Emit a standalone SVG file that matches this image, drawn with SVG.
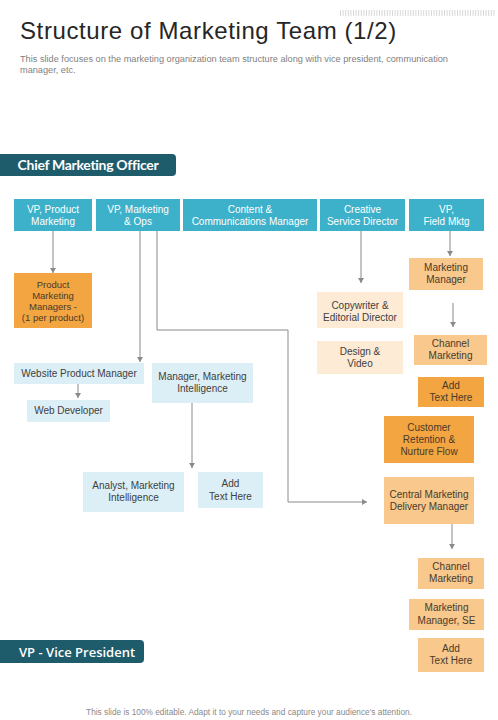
<svg xmlns="http://www.w3.org/2000/svg" width="498" height="720" viewBox="0 0 498 720">
<style>
.t{font-family:"Liberation Sans",Arial,sans-serif;text-anchor:middle}
.hd{fill:#3DB1CA}
.hdt{font-size:10px;fill:#ffffff}
.lb{fill:#DDEFF6}
.pe{fill:#FDEBD6}
.mo{fill:#F8C88D}
.do{fill:#F2A541}
.bt{font-size:10px;fill:#404040}
.ot{font-size:10px;fill:#4a3a2a}
.ban{fill:#1E5B6B}
.con{fill:none;stroke:#8a8a8a;stroke-width:1;marker-end:url(#ah)}
</style>
<defs>
<marker id="ah" markerUnits="userSpaceOnUse" markerWidth="6" markerHeight="6" refX="5" refY="3" orient="auto">
<path d="M0,0 L5,3 L0,6 Z" fill="#8a8a8a"/>
</marker>
</defs>
<rect width="498" height="720" fill="#ffffff"/>
<line x1="340" y1="13" x2="496" y2="13" stroke="#d8d8d8" stroke-width="6" stroke-dasharray="1 1.6"/>
<text x="20" y="39" style="font-family:'Liberation Sans',Arial,sans-serif;font-size:24px;fill:#262626;letter-spacing:0.6px">Structure of Marketing Team (1/2)</text>
<text x="20" y="62" style="font-family:'Liberation Sans',Arial,sans-serif;font-size:9.2px;fill:#7f7f7f">This slide focuses on the marketing organization team structure along with vice president, communication</text>
<text x="20" y="73" style="font-family:'Liberation Sans',Arial,sans-serif;font-size:9.2px;fill:#7f7f7f">manager, etc.</text>

<g id="cmo">
<rect class="ban" x="-6" y="154" width="182" height="22" rx="4"/>
<text class="t" x="88" y="170" style="font-family:Lato,'Open Sans',sans-serif;font-weight:bold;font-size:14px;fill:#ffffff;letter-spacing:-0.3px">Chief Marketing Officer</text>
</g>

<g id="vp-product">
<rect class="hd" x="14" y="199" width="78" height="32"/>
<text class="t hdt" x="53" y="213">VP, Product</text>
<text class="t hdt" x="53" y="225">Marketing</text>
</g>
<g id="vp-mktg-ops">
<rect class="hd" x="96" y="199" width="84" height="32"/>
<text class="t hdt" x="138" y="213">VP, Marketing</text>
<text class="t hdt" x="138" y="225">&amp; Ops</text>
</g>
<g id="content-comm">
<rect class="hd" x="183" y="199" width="134" height="32"/>
<text class="t hdt" x="250" y="213">Content &amp;</text>
<text class="t hdt" x="250" y="225">Communications Manager</text>
</g>
<g id="creative">
<rect class="hd" x="320" y="199" width="85" height="32"/>
<text class="t hdt" x="362.5" y="213">Creative</text>
<text class="t hdt" x="362.5" y="225">Service Director</text>
</g>
<g id="vp-field">
<rect class="hd" x="409" y="199" width="75" height="32"/>
<text class="t hdt" x="446.5" y="213">VP,</text>
<text class="t hdt" x="446.5" y="225">Field Mktg</text>
</g>

<g id="pmm">
<rect class="do" x="14" y="273" width="78" height="55"/>
<text class="t ot" x="53" y="288" style="font-size:9.5px">Product</text>
<text class="t ot" x="53" y="299" style="font-size:9.5px">Marketing</text>
<text class="t ot" x="53" y="310" style="font-size:9.5px">Managers -</text>
<text class="t ot" x="53" y="321" style="font-size:9.5px">(1 per product)</text>
</g>

<g id="website-pm">
<rect class="lb" x="14" y="363" width="130" height="21"/>
<text class="t bt" x="79" y="377">Website Product Manager</text>
</g>
<g id="web-dev">
<rect class="lb" x="27" y="400" width="83" height="22"/>
<text class="t bt" x="68.5" y="414">Web Developer</text>
</g>
<g id="mgr-mi">
<rect class="lb" x="152" y="363" width="101" height="40"/>
<text class="t bt" x="202.5" y="380">Manager,  Marketing</text>
<text class="t bt" x="202.5" y="392">Intelligence</text>
</g>
<g id="analyst-mi">
<rect class="lb" x="83" y="472" width="101" height="40"/>
<text class="t bt" x="133.5" y="489">Analyst, Marketing</text>
<text class="t bt" x="133.5" y="501">Intelligence</text>
</g>
<g id="add-blue">
<rect class="lb" x="198" y="472" width="65" height="36"/>
<text class="t bt" x="230.5" y="487">Add</text>
<text class="t bt" x="230.5" y="500">Text Here</text>
</g>

<g id="copywriter">
<rect class="pe" x="317" y="292" width="86" height="36"/>
<text class="t bt" x="360" y="309">Copywriter &amp;</text>
<text class="t bt" x="360" y="321">Editorial Director</text>
</g>
<g id="design-video">
<rect class="pe" x="317" y="341" width="86" height="33"/>
<text class="t bt" x="360" y="355">Design &amp;</text>
<text class="t bt" x="360" y="367">Video</text>
</g>

<g id="mktg-mgr">
<rect class="mo" x="409" y="258" width="74" height="32"/>
<text class="t ot" x="446" y="271">Marketing</text>
<text class="t ot" x="446" y="283">Manager</text>
</g>
<g id="channel-1">
<rect class="mo" x="414" y="335" width="73" height="30"/>
<text class="t ot" x="450.5" y="347">Channel</text>
<text class="t ot" x="450.5" y="359">Marketing</text>
</g>
<g id="add-orange">
<rect class="do" x="418" y="377" width="66" height="30"/>
<text class="t ot" x="451" y="389">Add</text>
<text class="t ot" x="451" y="401">Text Here</text>
</g>
<g id="retention">
<rect class="do" x="384" y="416" width="90" height="47"/>
<text class="t ot" x="429" y="431">Customer</text>
<text class="t ot" x="429" y="443">Retention &amp;</text>
<text class="t ot" x="429" y="455">Nurture Flow</text>
</g>
<g id="central">
<rect class="mo" x="384" y="477" width="90" height="47"/>
<text class="t ot" x="429" y="498">Central Marketing</text>
<text class="t ot" x="429" y="510">Delivery Manager</text>
</g>
<g id="channel-2">
<rect class="mo" x="418" y="558" width="66" height="31"/>
<text class="t ot" x="451" y="570">Channel</text>
<text class="t ot" x="451" y="582">Marketing</text>
</g>
<g id="mktg-mgr-se">
<rect class="mo" x="409" y="599" width="75" height="31"/>
<text class="t ot" x="446.5" y="611">Marketing</text>
<text class="t ot" x="446.5" y="624">Manager,  SE</text>
</g>
<g id="add-orange-2">
<rect class="mo" x="418" y="638" width="66" height="34"/>
<text class="t ot" x="451" y="652">Add</text>
<text class="t ot" x="451" y="664">Text Here</text>
</g>

<g id="vp-banner">
<rect class="ban" x="-6" y="640" width="150" height="23" rx="4"/>
<text x="19" y="656.5" style="font-family:'Open Sans',Lato,sans-serif;font-weight:600;font-size:13px;fill:#ffffff">VP - Vice President</text>
</g>

<g id="connectors">
<path class="con" d="M53,231 V273"/>
<path class="con" d="M140,231 V362"/>
<path class="con" d="M157,231 V330 H288 V502 H367"/>
<path class="con" d="M361,231 V283"/>
<path class="con" d="M450,231 V256"/>
<path class="con" d="M453,303 V327"/>
<path class="con" d="M78,384 V398"/>
<path class="con" d="M192,403 V468"/>
<path class="con" d="M452,524 V549"/>
</g>

<text class="t" x="249" y="715" style="font-size:8.3px;fill:#8a8a8a">This slide is 100% editable. Adapt it to your needs and capture your audience's attention.</text>
</svg>
